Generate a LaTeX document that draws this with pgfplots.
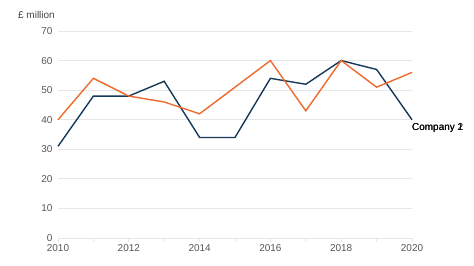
\documentclass[border=0pt]{standalone}
\usepackage{pgfplots}
\pgfplotsset{compat=1.18}
\usepackage{fontspec}
\setmainfont{Liberation Sans}
\definecolor{navy}{HTML}{163858}
\definecolor{orng}{HTML}{EE6A2C}
\definecolor{ticktxt}{HTML}{555555}
\definecolor{gridc}{HTML}{E6E6E6}
\begin{document}
\begin{tikzpicture}
\begin{axis}[
  scale only axis,
  width=354bp, height=207bp,
  xmin=2010, xmax=2020, ymin=0, ymax=70,
  axis line style={draw=none},
  axis x line*=bottom,
  x axis line style={draw=gridc, line width=0.8pt},
  ytick={0,10,...,70},
  xtick={2010,2012,...,2020},
  minor xtick={2011,2013,...,2019},
  tick style={draw=gridc, line width=0.8pt},
  major tick length=4bp, minor tick length=4bp,
  xtick pos=bottom, ytick style={draw=none},
  xtick align=outside,
  ymajorgrids, grid style={draw=gridc, line width=0.8pt},
  /pgf/number format/assume math mode=true,
  /pgf/number format/1000 sep={},
  tick label style={font=\fontsize{10}{12}\selectfont, text=ticktxt},
  yticklabel style={xshift=-2bp},
  xticklabel style={yshift=1bp},
  clip=false,
]
\addplot[navy, line width=1.4pt] coordinates {
  (2010,31) (2011,48) (2012,48) (2013,53) (2014,34) (2015,34)
  (2016,54) (2017,52) (2018,60) (2019,57) (2020,40)};
\addplot[orng, line width=1.4pt] coordinates {
  (2010,40) (2011,54) (2012,48) (2013,46) (2014,42) (2015,51)
  (2016,60) (2017,43) (2018,60) (2019,51) (2020,56)};
\node[anchor=west, inner sep=0pt, font=\fontsize{10}{12}\selectfont] at (axis cs:2020,37.2) {Company 1};
\node[anchor=west, inner sep=0pt, font=\fontsize{10}{12}\selectfont] at (axis cs:2020,37.2) {Company 2};
\node[anchor=west, inner sep=0pt, font=\fontsize{10}{12}\selectfont, text=ticktxt!80!black] at (axis cs:2010,75.5) [xshift=-40bp] {£ million};
\end{axis}
\path (current axis.south west) ++(-58bp,-28bp) rectangle ++(474bp,266bp);
\end{tikzpicture}
\end{document}
